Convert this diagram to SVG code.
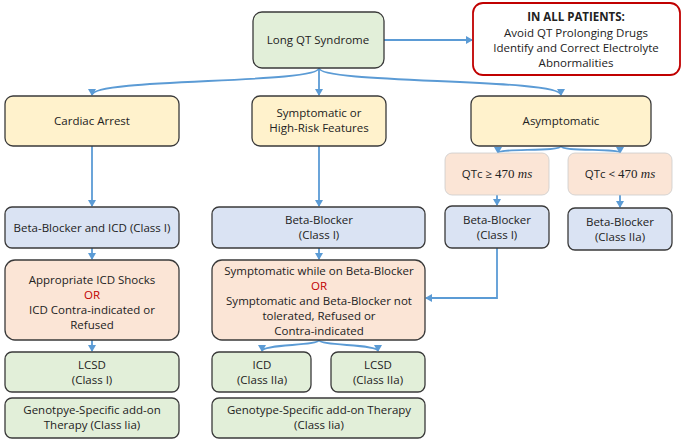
<svg xmlns="http://www.w3.org/2000/svg" width="685" height="442" viewBox="0 0 685 442">
<defs>
<marker id="a" markerWidth="8" markerHeight="8" refX="6" refY="4" orient="auto" markerUnits="userSpaceOnUse"><path d="M0,0 L7,4 L0,8 z" fill="#5b9bd5"/></marker>
<style>
.b{stroke:#3a3a3a;stroke-width:1.3}
.g{fill:#e2efd9}.y{fill:#fff2cc}.o{fill:#fbe5d6}.u{fill:#dae3f3}
text{font-family:"Open Sans","Liberation Sans",sans-serif;font-size:11.5px;fill:#222;text-anchor:middle}
.c path{fill:none;stroke:#5b9bd5;stroke-width:1.8;marker-end:url(#a)}
.r{fill:#c00000}
</style>
</defs>
<rect width="685" height="442" fill="#fff"/>
<g class="c">
<path d="M384,40 H472"/>
<path d="M319,68 C319,84 92,78 92,95"/>
<path d="M319,68 V95"/>
<path d="M319,68 C319,84 561,78 561,95"/>
<path d="M561,146 C561,152 498,148 498,153"/>
<path d="M561,146 C561,152 620,148 620,153"/>
<path d="M497,195 V205"/>
<path d="M620,195 V207"/>
<path d="M92,146 V206"/>
<path d="M319,146 V206"/>
<path d="M92,248 V259"/>
<path d="M319,248 V259"/>
<path d="M497,248 V298 H426"/>
<path d="M92,340 V351"/>
<path d="M319,340 C319,346 262,344 262,351"/>
<path d="M319,340 C319,346 378,344 378,351"/>
</g>
<g id="lqt"><rect class="b g" x="253" y="12" width="131" height="56" rx="9"/><text x="318" y="44">Long QT Syndrome</text></g>
<g id="all"><rect x="473" y="3" width="207" height="72" rx="10" fill="#fff" stroke="#c00000" stroke-width="1.8"/><text x="576" y="21" font-weight="bold">IN ALL PATIENTS:</text><text x="576" y="37">Avoid QT Prolonging Drugs</text><text x="576" y="52">Identify and Correct Electrolyte</text><text x="576" y="67">Abnormalities</text></g>
<g id="ca"><rect class="b y" x="5" y="96" width="174" height="50" rx="8"/><text x="92" y="125">Cardiac Arrest</text></g>
<g id="sym"><rect class="b y" x="252" y="96" width="134" height="50" rx="8"/><text x="319" y="117">Symptomatic or</text><text x="319" y="132">High-Risk Features</text></g>
<g id="asym"><rect class="b y" x="471" y="96" width="180" height="50" rx="8"/><text x="561" y="125">Asymptomatic</text></g>
<g id="q1"><rect class="o" x="445" y="153" width="104" height="42" rx="7" stroke="#ccc" stroke-width="0.8"/><text x="497" y="178">QTc ≥ <tspan font-family="'Liberation Serif',serif" font-size="13">470 </tspan><tspan font-family="'Liberation Serif',serif" font-style="italic" font-size="13">ms</tspan></text></g>
<g id="q2"><rect class="o" x="568" y="153" width="104" height="42" rx="7" stroke="#ccc" stroke-width="0.8"/><text x="620" y="178">QTc &lt; <tspan font-family="'Liberation Serif',serif" font-size="13">470 </tspan><tspan font-family="'Liberation Serif',serif" font-style="italic" font-size="13">ms</tspan></text></g>
<g id="bb1r"><rect class="b u" x="445" y="206" width="104" height="42" rx="7"/><text x="497" y="224">Beta-Blocker</text><text x="497" y="239">(Class I)</text></g>
<g id="bb2r"><rect class="b u" x="568" y="208" width="104" height="42" rx="7"/><text x="620" y="226">Beta-Blocker</text><text x="620" y="241">(Class IIa)</text></g>
<g id="bbicd"><rect class="b u" x="5" y="207" width="174" height="41" rx="7"/><text x="92" y="232">Beta-Blocker and ICD (Class I)</text></g>
<g id="bbm"><rect class="b u" x="212" y="207" width="213" height="41" rx="7"/><text x="319" y="224">Beta-Blocker</text><text x="319" y="239">(Class I)</text></g>
<g id="app"><rect class="b o" x="5" y="260" width="174" height="80" rx="10"/><text x="92" y="284">Appropriate ICD Shocks</text><text x="92" y="299" class="r">OR</text><text x="92" y="314">ICD Contra-indicated or</text><text x="92" y="329">Refused</text></g>
<g id="sw"><rect class="b o" x="212" y="260" width="213" height="80" rx="10"/><text x="319" y="275">Symptomatic while on Beta-Blocker</text><text x="319" y="290" class="r">OR</text><text x="319" y="305">Symptomatic and Beta-Blocker not</text><text x="319" y="320">tolerated, Refused or</text><text x="319" y="335">Contra-indicated</text></g>
<g id="lcsd1"><rect class="b g" x="5" y="352" width="174" height="40" rx="7"/><text x="92" y="369">LCSD</text><text x="92" y="384">(Class I)</text></g>
<g id="gen1"><rect class="b g" x="5" y="398" width="174" height="40" rx="7"/><text x="92" y="414">Genotpye-Specific add-on</text><text x="92" y="429">Therapy (Class Iia)</text></g>
<g id="icd"><rect class="b g" x="212" y="352" width="99" height="40" rx="7"/><text x="262" y="369">ICD</text><text x="262" y="384">(Class IIa)</text></g>
<g id="lcsd2"><rect class="b g" x="331" y="352" width="94" height="40" rx="7"/><text x="378" y="369">LCSD</text><text x="378" y="384">(Class IIa)</text></g>
<g id="gen2"><rect class="b g" x="212" y="398" width="213" height="40" rx="7"/><text x="319" y="414">Genotype-Specific add-on Therapy</text><text x="319" y="429">(Class Iia)</text></g>
</svg>
